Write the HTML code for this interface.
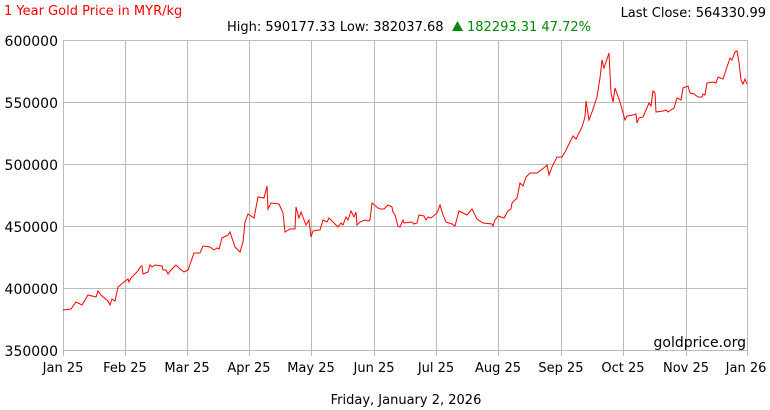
<!DOCTYPE html>
<html><head><meta charset="utf-8"><style>
body{margin:0;background:#fff;}
svg{display:block;font-family:"DejaVu Sans","Liberation Sans",sans-serif;}
</style></head><body>
<svg width="770" height="410" xmlns="http://www.w3.org/2000/svg">
<rect width="770" height="410" fill="#fff"/>
<g stroke="#bbb" stroke-width="1" fill="none">
<line x1="63" y1="40.5" x2="747" y2="40.5"/>
<line x1="63" y1="102.5" x2="747" y2="102.5"/>
<line x1="63" y1="164.5" x2="747" y2="164.5"/>
<line x1="63" y1="226.5" x2="747" y2="226.5"/>
<line x1="63" y1="288.5" x2="747" y2="288.5"/>
<line x1="63" y1="350.5" x2="747" y2="350.5"/>
<line x1="63.5" y1="40" x2="63.5" y2="356"/>
<line x1="125.5" y1="40" x2="125.5" y2="356"/>
<line x1="187.5" y1="40" x2="187.5" y2="356"/>
<line x1="249.5" y1="40" x2="249.5" y2="356"/>
<line x1="311.5" y1="40" x2="311.5" y2="356"/>
<line x1="374.5" y1="40" x2="374.5" y2="356"/>
<line x1="436.5" y1="40" x2="436.5" y2="356"/>
<line x1="498.5" y1="40" x2="498.5" y2="356"/>
<line x1="561.5" y1="40" x2="561.5" y2="356"/>
<line x1="623.5" y1="40" x2="623.5" y2="356"/>
<line x1="686.5" y1="40" x2="686.5" y2="356"/>
<line x1="747.5" y1="40" x2="747.5" y2="356"/>
</g>
<polyline fill="none" stroke="#f00" stroke-width="1" points="63,310 71,309 76,302 82,305 88,295 96,297 98,291 101,295 108,301 110,305 112,299 115,301 118,287 124,282 128,279 129,282 131,278 137,272 141,266 142,266 143,274 148,272 150,265 152,267 155,265 162,266 163,270 166,270 168,274 171,270 176,265 180,269 184,272 188,270 194,253 200,253 203,246 210,247 214,250 217,248 219,249 222,238 228,235 230,232 232,238 235,247 240,252 243,242 245,222 248,214 254,218 258,197 264,198 267,186 268,209 271,203 279,204 283,213 285,232 290,229 295,229 296,207 299,218 301,212 306,225 309,220 311,237 313,231 318,230 320,230 323,220 327,222 329,218 336,225 338,227 341,223 343,225 346,217 348,220 351,211 354,217 356,212 357,225 360,222 365,220 368,221 370,220 372,203 378,208 380,209 384,209 388,205 392,207 393,212 395,215 398,226 400,227 403,220 404,223 412,222 414,224 417,223 419,215 424,216 426,220 428,217 431,218 437,213 440,205 443,215 446,222 452,224 455,226 459,211 467,215 472,209 477,219 483,223 492,224 493,226 495,220 498,216 504,218 508,211 511,209 512,203 517,198 520,183 523,186 526,177 530,173 537,173 545,167 547,165 549,175 552,167 557,157 562,157 565,152 570,142 573,136 576,139 582,127 585,117 586,101 589,120 592,112 597,97 600,78 602,60 604,68 609,53 611,93 613,102 615,88 620,102 625,120 627,116 633,115 636,114 637,123 639,118 643,117 649,103 651,106 653,91 655,93 656,112 663,111 666,110 668,112 674,108 677,98 681,100 683,88 688,86 690,93 694,94 698,97 702,97 703,94 705,95 707,83 713,82 716,83 718,77 723,79 730,58 732,60 735,52 737,51 739,62 741,80 743,84 745,79 747,84"/>
<g font-size="14" fill="#000" text-anchor="end">
<text x="58" y="46">600000</text>
<text x="58" y="108">550000</text>
<text x="58" y="170">500000</text>
<text x="58" y="232">450000</text>
<text x="58" y="294">400000</text>
<text x="58" y="356">350000</text>
</g>
<g font-size="13" fill="#000" text-anchor="middle">
<text x="63" y="372">Jan 25</text>
<text x="125" y="372">Feb 25</text>
<text x="187" y="372">Mar 25</text>
<text x="249" y="372">Apr 25</text>
<text x="311" y="372">May 25</text>
<text x="374" y="372">Jun 25</text>
<text x="436" y="372">Jul 25</text>
<text x="498" y="372">Aug 25</text>
<text x="561" y="372">Sep 25</text>
<text x="623" y="372">Oct 25</text>
<text x="686" y="372">Nov 25</text>
<text x="746" y="372">Jan 26</text>
<text x="406" y="404">Friday, January 2, 2026</text>
</g>
<text x="4" y="15" font-size="13" fill="#f00">1 Year Gold Price in MYR/kg</text>
<text x="766" y="17" font-size="13" fill="#000" text-anchor="end">Last Close: 564330.99</text>
<text x="227" y="31" font-size="13" fill="#000">High: 590177.33 Low: 382037.68</text>
<polygon points="452,31 463,31 457.5,21" fill="#080"/>
<text x="467" y="31" font-size="13" fill="#080">182293.31 47.72%</text>
<text x="746" y="347" font-size="14" fill="#000" text-anchor="end">goldprice.org</text>
</svg>
</body></html>
